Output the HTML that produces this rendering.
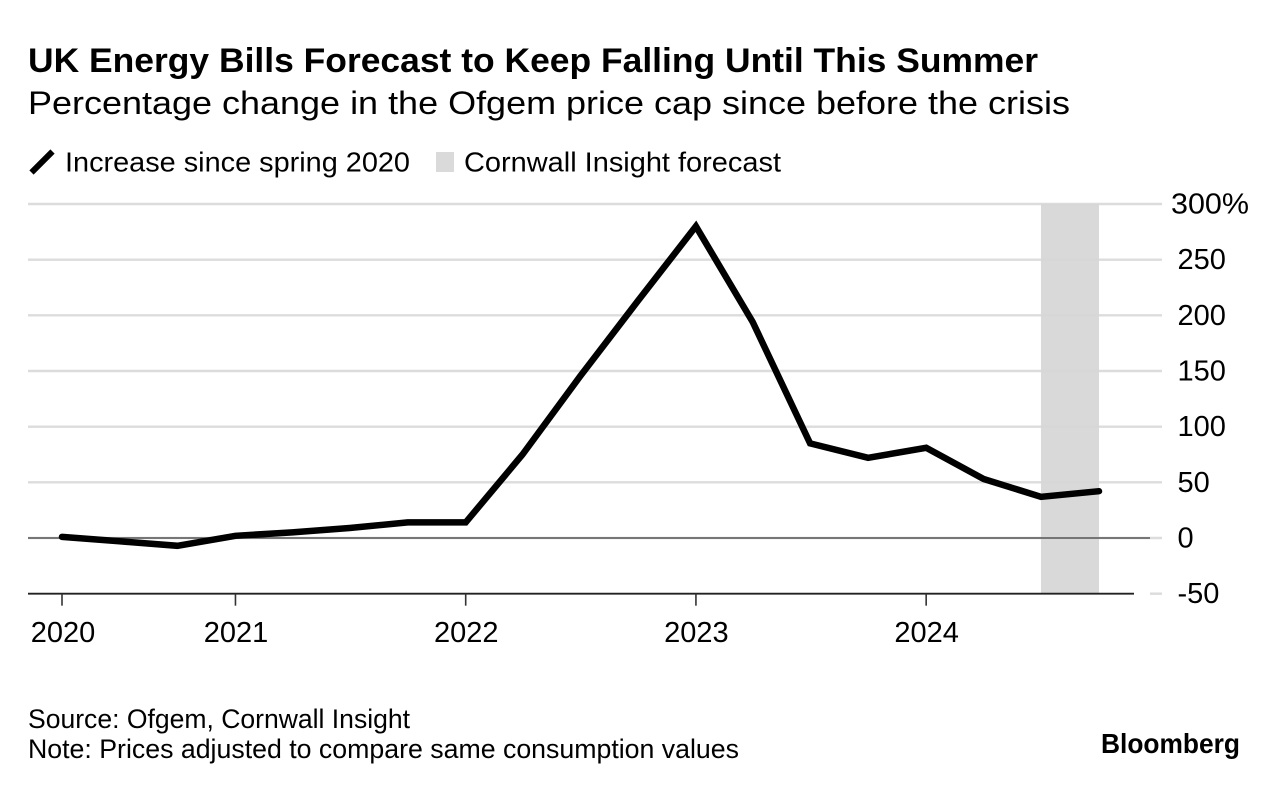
<!DOCTYPE html>
<html lang="en">
<head>
<meta charset="utf-8">
<title>UK Energy Bills Forecast</title>
<style>
html,body{margin:0;padding:0;background:#fff;width:1279px;height:788px;overflow:hidden}
svg{display:block}
text{font-family:"Liberation Sans",sans-serif;fill:#000}
</style>
</head>
<body>
<svg id="chart" xmlns="http://www.w3.org/2000/svg" width="1279" height="788" viewBox="0 0 1279 788">
<rect x="0" y="0" width="1279" height="788" fill="#fff"/>
<text x="28" y="72" font-size="34.5" font-weight="700" textLength="1010" lengthAdjust="spacingAndGlyphs">UK Energy Bills Forecast to Keep Falling Until This Summer</text>
<text x="28" y="114" font-size="32.5" textLength="1042" lengthAdjust="spacingAndGlyphs">Percentage change in the Ofgem price cap since before the crisis</text>
<line x1="31.5" y1="172.5" x2="52.5" y2="151.5" stroke="#000" stroke-width="6"/>
<text x="65" y="171.5" font-size="28" textLength="345" lengthAdjust="spacingAndGlyphs">Increase since spring 2020</text>
<rect x="436" y="152" width="18" height="20" fill="#dadada"/>
<text x="464" y="171.5" font-size="28" textLength="317" lengthAdjust="spacingAndGlyphs">Cornwall Insight forecast</text>
<g id="grid"></g>
<g id="band"></g>
<g id="axes"></g>
<g id="series"></g>
<text x="28" y="728" font-size="27" textLength="382" lengthAdjust="spacingAndGlyphs">Source: Ofgem, Cornwall Insight</text>
<text x="28" y="758" font-size="27" textLength="711" lengthAdjust="spacingAndGlyphs">Note: Prices adjusted to compare same consumption values</text>
<text x="1101" y="753" font-size="27.5" font-weight="700" textLength="139" lengthAdjust="spacingAndGlyphs">Bloomberg</text>
</svg>
<script>
const categories = ["2020-04","2020-07","2020-10","2021-01","2021-04","2021-07","2021-10","2022-01","2022-04","2022-07","2022-10","2023-01","2023-04","2023-07","2023-10","2024-01","2024-04","2024-07","2024-10"];
const increaseValues = [1,-3,-7,2,5,9,14,14,75,145,213,280,194,85,72,81,53,37,42];
const yTicks = [-50,0,50,100,150,200,250,300];
const yTickLabels = ["-50","0","50","100","150","200","250","300%"];
const xTickCategories = ["2020-04","2021-01","2022-01","2023-01","2024-01"];
const xTickLabels = ["2020","2021","2022","2023","2024"];
const forecastRange = ["2024-07","2024-10"];

const NS = "http://www.w3.org/2000/svg";
function toTime(category){
  return Date.parse(category + "-01T00:00:00Z");
}
function xScale(category){
  const t0 = toTime(categories[0]);
  const t1 = toTime(categories[categories.length - 1]);
  return 62 + (toTime(category) - t0) * (1099 - 62) / (t1 - t0);
}
function yScale(value){
  return 538 - value * (538 - 204) / 300;
}
function make(parent, tag, attrs){
  const el = document.createElementNS(NS, tag);
  for (const k in attrs) el.setAttribute(k, attrs[k]);
  parent.appendChild(el);
  return el;
}
const grid = document.getElementById("grid");
const band = document.getElementById("band");
const axes = document.getElementById("axes");
const series = document.getElementById("series");

yTicks.forEach(function(t, i){
  const y = yScale(t);
  const line = make(grid, "line", {x1: t === -50 ? 1150 : 28, x2: 1162, y1: y, y2: y, stroke: "#dcdcdc", "stroke-width": 2.4});
  
  
  const label = make(axes, "text", {x: t === 300 ? 1171 : 1177.5, y: y + 9.5, "font-size": 29});
  if (t === 300) {
    label.setAttribute("textLength", 78);
    label.setAttribute("lengthAdjust", "spacingAndGlyphs");
  }
  label.textContent = yTickLabels[i];
  
  
});

const bandX0 = xScale(forecastRange[0]);
const bandX1 = xScale(forecastRange[1]);
const bandRect = make(band, "rect", {x: bandX0, y: yScale(300), width: bandX1 - bandX0, height: yScale(-50) - yScale(300), fill: "#d6d6d6", "fill-opacity": 0.92});



const zeroLine = make(axes, "line", {x1: 28, x2: 1150, y1: yScale(0), y2: yScale(0), stroke: "#555", "stroke-width": 1.6});



const xAxis = make(axes, "line", {x1: 28, x2: 1134, y1: yScale(-50), y2: yScale(-50), stroke: "#222", "stroke-width": 1.8});



xTickCategories.forEach(function(c, i){
  const x = xScale(c);
  const tick = make(axes, "line", {x1: x, x2: x, y1: yScale(-50), y2: yScale(-50) + 12, stroke: "#333", "stroke-width": 1.6});
  
  
  const label = make(axes, "text", {x: x + (i === 0 ? 1 : 0.5), y: 642, "font-size": 29, "text-anchor": "middle"});
  label.textContent = xTickLabels[i];
  
  
});

const points = increaseValues.map(function(v, i){
  return xScale(categories[i]).toFixed(1) + "," + yScale(v).toFixed(1);
}).join(" ");
const seriesLine = make(series, "polyline", {points: points, fill: "none", stroke: "#000", "stroke-width": 6.5, "stroke-linejoin": "miter", "stroke-linecap": "round"});


</script>
</body>
</html>
